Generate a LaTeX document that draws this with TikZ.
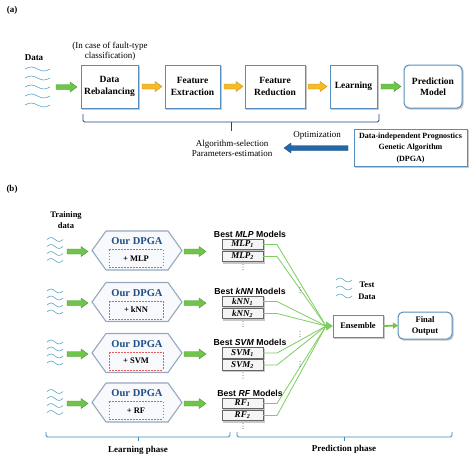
\documentclass[tikz,border=0pt]{standalone}
\usepackage{fontspec}
\setmainfont{Liberation Serif}
\newfontfamily\sansf{Liberation Sans}
\usetikzlibrary{calc,arrows.meta}
\definecolor{boxblue}{RGB}{84,141,190}
\definecolor{wavec}{RGB}{95,165,200}
\definecolor{gfill}{RGB}{112,196,74}
\definecolor{gdraw}{RGB}{70,150,50}
\definecolor{ofill}{RGB}{245,186,40}
\definecolor{odraw}{RGB}{200,140,20}
\definecolor{bfill}{RGB}{36,104,170}
\definecolor{bdraw}{RGB}{25,75,130}
\definecolor{dpgablue}{RGB}{31,78,135}
\definecolor{hexline}{RGB}{150,168,190}
\definecolor{hexfill}{RGB}{247,249,252}
\definecolor{dashred}{RGB}{235,90,90}
\definecolor{lineg}{RGB}{125,205,95}
\definecolor{brk}{RGB}{60,140,185}
\definecolor{shad}{RGB}{200,200,200}
\def\bahl{7pt}\def\basw{2.5pt}\def\bahw{5pt}
\tikzset{
  blockarrow/.style={to path={let \p1=(\tikztostart),\p2=(\tikztotarget),\p3=($(\p2)!\bahl!(\p1)$) in
    (\x1,\y1-\basw) -- (\x3,\y1-\basw) -- (\x3,\y1-\bahw) -- (\x2,\y1) -- (\x3,\y1+\bahw) -- (\x3,\y1+\basw) -- (\x1,\y1+\basw) -- cycle}},
  garrow/.style={blockarrow, fill=gfill, draw=gdraw, line width=0.4pt},
  oarrow/.style={blockarrow, fill=ofill, draw=odraw, line width=0.4pt},
  barrow/.style={blockarrow, fill=bfill, draw=bdraw, line width=0.4pt},
}
\newcommand\wavy[3]{\draw[wavec, line width=0.6pt] (#1,#2) sin ++(#3/4,-2) cos ++(#3/4,2) sin ++(#3/4,2) cos ++(#3/4,-2);}
\newcommand\vdts[2]{\foreach \dd in {-2.6,0,2.6} {\fill[black!70] (#1,#2+\dd) circle (0.5pt);}}
% dashed red frame drawn as filled dash pieces: left x, top y, bottom y
\newcommand\dashframe[3]{%
  \foreach \q in {0,...,17} {\fill[dashred] (#1+3*\q,#2-0.45) rectangle ++(1.8,0.9);
                            \fill[dashred] (#1+3*\q,#3-0.45) rectangle ++(1.8,0.9);}
  \foreach \q in {0,...,5} {\fill[dashred] (#1-0.45,#2+3*\q) rectangle ++(0.9,1.8);
                           \fill[dashred] (#1+53.55,#2+3*\q) rectangle ++(0.9,1.8);}}
\begin{document}
\begin{tikzpicture}[x=1pt,y=-1pt,
  every node/.style={inner sep=0pt, outer sep=0pt},
  shadowed/.style={preaction={draw=shad, fill=shad, transform canvas={xshift=1.2pt,yshift=-1.2pt}}},
  abox/.style={draw=boxblue, line width=1pt, fill=white, align=center,
     font=\bfseries\fontsize{9.5}{11.5}\selectfont, shadowed},
  rbox/.style={abox, rounded corners=5pt},
  btxt/.style={font=\bfseries\fontsize{9}{11}\selectfont, align=center},
  ntxt/.style={font=\fontsize{9}{10.5}\selectfont, align=center},
  hexbox/.style={minimum width=90pt, minimum height=39pt},
  hexpath/.style={draw=hexline, line width=1.1pt, fill=hexfill},
  dpga/.style={font=\bfseries\fontsize{10.5}{12}\selectfont, text=dpgablue},
  algbox/.style={minimum width=54pt, minimum height=18pt, font=\bfseries\fontsize{8.5}{10}\selectfont},
  stitle/.style={font=\sansf\bfseries\fontsize{8.7}{10}\selectfont},
  mbox/.style={draw=black!60, line width=0.7pt, fill=black!4, minimum width=41pt, minimum height=10.5pt,
     font=\bfseries\itshape\fontsize{9}{9}\selectfont, shadowed},
  gline/.style={draw=lineg, line width=0.8pt},
  bracket/.style={line width=0.9pt, rounded corners=1.5pt},
]
\useasboundingbox (0,0) rectangle (474,461);

% ---------- panel (a)
\node[btxt] (la) at (12,10) {(a)};
\node[btxt] (data) at (34,58) {Data};
\foreach \k in {0,...,4} {\wavy{25}{69+9*\k}{25}}
\coordinate (dsrc) at (56,87);
\node[ntxt] (incase) at (110,51.5) {(In case of fault-type\\classification)};
\node[abox, minimum width=57pt, minimum height=43pt] (reb) at (109.5,86.5) {Data\\Rebalancing};
\node[abox, minimum width=55pt, minimum height=43pt] (fext) at (192.5,86.5) {Feature\\Extraction};
\node[abox, minimum width=60pt, minimum height=43pt] (fred) at (275,86.5) {Feature\\Reduction};
\node[abox, minimum width=47pt, minimum height=43pt] (learn) at (353.5,86.5) {Learning};
\node[rbox, minimum width=58pt, minimum height=43pt] (pred) at (433,86.5) {Prediction\\Model};

\draw[garrow] (dsrc) to ([xshift=-4pt]reb.west);
\draw[oarrow] ([xshift=4pt]reb.east) to ([xshift=-3pt]fext.west);
\draw[oarrow] ([xshift=4pt]fext.east) to ([xshift=-2pt]fred.west);
\draw[oarrow] ([xshift=3pt]fred.east) to ([xshift=-3pt]learn.west);
\draw[garrow] ([xshift=4pt]learn.east) to ([xshift=-3pt]pred.west);

\draw[bracket, draw=bdraw] (83,114) -- (83,122) -- (379,122) -- (379,114);
\draw[line width=0.9pt, draw=bdraw] (231,122) -- (231,131);

\node[ntxt] (algo) at (232,148.5) {Algorithm-selection\\Parameters-estimation};
\node[ntxt] (opt) at (317,135.5) {Optimization};
\node[abox, minimum width=113pt, minimum height=37pt, font=\bfseries\fontsize{8}{11.2}\selectfont] (dpgabox) at (410.5,148)
   {Data-independent Prognostics\\Genetic Algorithm\\(DPGA)};
\draw[barrow] ([xshift=-6pt]dpgabox.west) to (284,149);

% ---------- panel (b)
\node[btxt] (lb) at (12,189) {(b)};
\node[btxt, font=\bfseries\fontsize{8.5}{11}\selectfont] (train) at (66,220.5) {Training\\data};

\node[abox, font=\bfseries\fontsize{8.5}{10}\selectfont, minimum width=50pt, minimum height=22pt] (ens) at (358,326) {Ensemble};
\node[rbox, font=\bfseries\fontsize{8.5}{11}\selectfont, minimum width=54pt, minimum height=27pt] (fo) at (425,325.5) {Final\\Output};
\coordinate (conv) at ($(ens.west)+(-7,0)$);

\foreach \c/\t/\nm [count=\i] in {250.5/234/MLP, 302/291/kNN, 353/342.5/SVM, 402.5/393/RF} {
  \foreach \k in {0,...,3} {\wavy{47}{\c-11+7*\k}{16}}
  \coordinate (src\i) at (67,\c+1);
  \node[hexbox] (hex\i) at (137,\c) {};
  \draw[hexpath] (hex\i.west) -- ([xshift=14pt]hex\i.north west) -- ([xshift=-14pt]hex\i.north east)
      -- (hex\i.east) -- ([xshift=-14pt]hex\i.south east) -- ([xshift=14pt]hex\i.south west) -- cycle;
  \node[dpga] (our\i) at (137,\c-9) {Our DPGA};
  \dashframe{109}{\c-1}{\c+17}
  \node[algbox] (alg\i) at (136,\c+8) {+ \nm};
  \coordinate (tip\i) at (206,\c+1);
  \draw[garrow] (src\i) to ([xshift=-4pt]hex\i.west |- src\i);
  \draw[garrow] ([xshift=2pt]hex\i.east |- tip\i) to (tip\i);
  \node[stitle] (title\i) at (250,\t) {Best \textit{\nm} Models};
  \node[mbox] (ma\i) at (242.5,\t+10.5) {\nm\textsubscript{1}};
  \node[mbox] (mb\i) at (242.5,\t+22.5) {\nm\textsubscript{2}};
  \vdts{243}{\t+33}
  \draw[gline] (ma\i.east) -- ++(14,0) -- (conv);
  \draw[gline] (mb\i.east) -- ++(14,0) -- (conv);
}
\draw[draw=lineg, line width=1.2pt, -{Triangle[length=7pt,width=9pt]}] (conv) -- (ens.west);
\draw[draw=gfill, line width=1.8pt, -{Triangle[length=5pt,width=6pt]}] (ens.east) -- (fo.west);

\vdts{300}{290}
\vdts{300}{334}
\vdts{300}{364}

\foreach \k in {0,1,2} {\wavy{336}{280+8*\k}{16}}
\node[btxt, font=\bfseries\fontsize{8.5}{11.5}\selectfont] (test) at (367,291) {Test\\Data};

\draw[bracket, draw=brk] (46,432) -- (46,437) -- (230,437) -- (230,432);
\draw[line width=0.9pt, draw=brk] (138,437) -- (138,441);
\node[btxt] (lp) at (138,450) {Learning phase};
\draw[bracket, draw=brk] (237,432) -- (237,437) -- (452,437) -- (452,432);
\draw[line width=0.9pt, draw=brk] (344,437) -- (344,441);
\node[btxt] (pp) at (344,449.5) {Prediction phase};
\end{tikzpicture}
\end{document}
